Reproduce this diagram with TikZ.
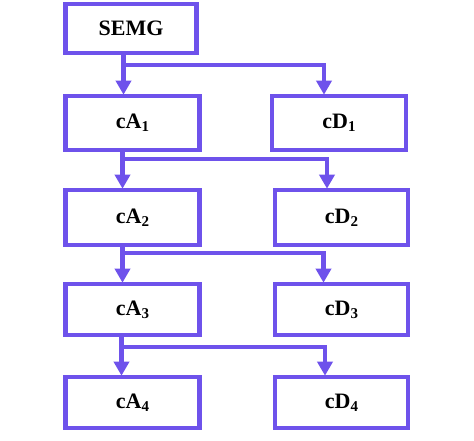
\documentclass[tikz,border=0pt]{standalone}
\usepackage{fontspec}
\setmainfont{Liberation Serif}
\usetikzlibrary{arrows.meta,calc}
\definecolor{boxpurple}{RGB}{110,82,235}
\tikzset{
  blk/.style={draw=boxpurple, line width=4.6pt, fill=white, inner sep=0pt,
    minimum height=50pt, font=\fontsize{22}{24}\selectfont\bfseries},
  conn/.style={draw=boxpurple, line width=4.2pt},
  arr/.style={conn, -{Triangle[width=15pt,length=14pt]}, shorten >=-1pt}
}
\newcommand{\sub}[1]{\raisebox{-0.3ex}{\fontsize{15}{15}\selectfont #1}}
\begin{document}
\begin{tikzpicture}[x=1pt,y=-1pt]
\useasboundingbox (0,0) rectangle (474,441);
% boxes
\node[blk, minimum width=131pt, minimum height=49pt] (semg) at (131,28.5) {SEMG};
\node[blk, minimum width=134pt, minimum height=54pt] (a1) at (132.5,123) {cA\sub{1}};
\node[blk, minimum width=134pt, minimum height=54pt] (d1) at (339,123) {cD\sub{1}};
\node[blk, minimum width=134pt, minimum height=55pt] (a2) at (132.5,217.5) {cA\sub{2}};
\node[blk, minimum width=133pt, minimum height=55pt] (d2) at (341.5,217.5) {cD\sub{2}};
\node[blk, minimum width=134pt, minimum height=51pt] (a3) at (132.5,309.5) {cA\sub{3}};
\node[blk, minimum width=133pt, minimum height=51pt] (d3) at (341.5,309.5) {cD\sub{3}};
\node[blk, minimum width=134pt, minimum height=51pt] (a4) at (132.5,402.5) {cA\sub{4}};
\node[blk, minimum width=133pt, minimum height=51pt] (d4) at (341.5,402.5) {cD\sub{4}};
% junction coordinates
\coordinate (j1) at (123.5,65);
\coordinate (r1) at (324,65);
\coordinate (j2) at (122.5,159);
\coordinate (r2) at (327,159);
\coordinate (j3) at (122.5,253);
\coordinate (r3) at (323.5,253);
\coordinate (j4) at (121.5,347);
\coordinate (r4) at (325,347);
% connectors
\draw[arr] (semg.south -| j1) -- (a1.north -| j1);
\draw[arr] ([xshift=-2.1pt]j1) -- (r1) -- (d1.north -| r1);
\draw[arr] (a1.south -| j2) -- (a2.north -| j2);
\draw[arr] ([xshift=-2.1pt]j2) -- (r2) -- (d2.north -| r2);
\draw[arr] (a2.south -| j3) -- (a3.north -| j3);
\draw[arr] ([xshift=-2.1pt]j3) -- (r3) -- (d3.north -| r3);
\draw[arr] (a3.south -| j4) -- (a4.north -| j4);
\draw[arr] ([xshift=-2.1pt]j4) -- (r4) -- (d4.north -| r4);
\end{tikzpicture}
\end{document}
